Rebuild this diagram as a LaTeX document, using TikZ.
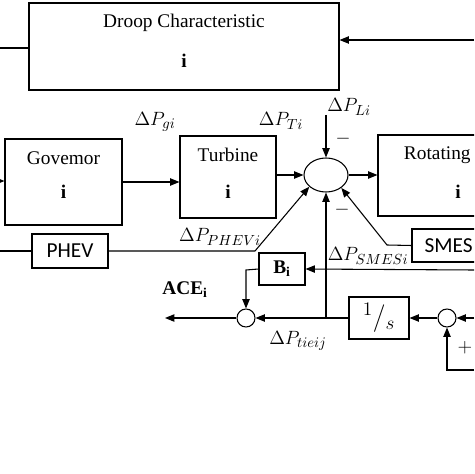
\documentclass[tikz,border=0pt]{standalone}
\usepackage{fontspec}
\setmainfont{Liberation Serif}
\newfontfamily\calib{Carlito}
\usetikzlibrary{arrows.meta,shapes.geometric}

\begin{document}
\begin{tikzpicture}[x=0.75pt,y=-0.75pt,line width=0.8pt,
        >={Triangle[length=7pt,width=5.5pt]},
        blk/.style={draw},
        txt/.style={font=\fontsize{14.5}{16}\selectfont},
        stxt/.style={font=\calib\fontsize{16}{18}\selectfont},
        sig/.style={font=\fontsize{15}{17}\selectfont},
        junc/.style={draw,circle,minimum size=13.5pt,inner sep=0pt}]
        \useasboundingbox (0,0) rectangle (474,474);
        \clip (0,0) rectangle (474,474);
        % blocks
        \node[blk,minimum width=232.5pt,minimum height=65.25pt] (droop) at (184,46.5) {};
        \node[txt] (droopname) at (184,23) {Droop Characteristic};
        \node[txt] (droopi) at (184,61) {\textbf{i}};
        \node[blk,minimum width=87.75pt,minimum height=64.5pt] (gov) at (63.5,182) {};
        \node[txt] (govname) at (63.5,158) {Govemor};
        \node[txt] (govi) at (63.5,192) {\textbf{i}};
        \node[blk,minimum width=72pt,minimum height=61.5pt] (turb) at (228,177) {};
        \node[txt] (turbname) at (228,155) {Turbine};
        \node[txt] (turbi) at (228,192) {\textbf{i}};
        \node[blk,minimum width=120pt,minimum height=60.75pt] (rot) at (458,175.5) {};
        \node[txt,anchor=west] (rotname) at (399,155) {Rotating};
        \node[txt] (roti) at (458,192) {\textbf{i}};
        \node[draw,ellipse,minimum width=33pt,minimum height=25.5pt,inner sep=0pt] (sum) at (326,175) {};
        \node[blk,minimum width=57pt,minimum height=25.5pt] (phev) at (70,251) {};
        \node[stxt] (phevname) at (70,251) {PHEV};
        \node[blk,minimum width=60pt,minimum height=24.75pt] (smes) at (452,245.5) {};
        \node[stxt,anchor=west,inner xsep=0pt] (smesname) at (424,245.5) {SMES};
        \node[blk,minimum width=34.5pt,minimum height=24pt,txt] (bi) at (282,269) {\textbf{B}$_{\mathbf{i}}$};
        \node[blk,minimum width=45pt,minimum height=31.5pt,font=\fontsize{20}{22}\selectfont] (ovs) at (379,318) {$^{1}/_{s}$};
        \node[junc] (c1) at (246,318) {};
        \node[junc] (c2) at (447,318) {};
        % free ends
        \coordinate (dl) at (0,48);
        \coordinate (dr) at (474,40);
        \coordinate (gl) at (0,181);
        \coordinate (pl) at (0,251);
        \coordinate (load) at (326,115);
        \coordinate (pk) at (255,251);
        \coordinate (sk) at (387,245);
        \coordinate (jn) at (326,318);
        \coordinate (bin) at (474,270);
        \coordinate (bk) at (246,270);
        \coordinate (ace) at (165,318);
        \coordinate (c2in) at (474,318);
        \coordinate (c2b) at (474,370);
        % connectors
        \draw (dl) -- (dl -| droop.west);
        \draw[->] (dr) -- (dr -| droop.east);
        \draw[->] (gl) -- (gl -| gov.west);
        \draw[->] (gov.east) -- (gov.east -| turb.west);
        \draw[->] (sum.west -| turb.east) -- (sum.west);
        \draw[->] (load) -- (sum.north);
        \draw[->] (sum.east) -- (sum.east -| rot.west);
        \draw (pl) -- (phev.west);
        \draw[->] (phev.east) -- (pk) -- (sum.215);
        \draw[->] (smes.west) -- (sk) -- (sum.-40);
        \draw[->] (jn) -- (sum.south);
        \draw[->] (ovs.west) -- (c1.east);
        \draw[->] (bin) -- (bi.east);
        \draw[->] (bi.west) -- (bk) -- (c1.north);
        \draw[->] (c1.west) -- (ace);
        \draw[->] (c2.west) -- (ovs.east);
        \draw[->] (c2in) -- (c2.east);
        \draw[->] (c2b) -- (c2b -| c2.south) -- (c2.south);
        % signal labels
        \node[sig] (lgi) at (155,122) {$\Delta P_{gi}$};
        \node[sig] (lti) at (281,121) {$\Delta P_{Ti}$};
        \node[sig] (lli) at (349,107) {$\Delta P_{Li}$};
        \node[sig] (lphev) at (220,237) {$\Delta P_{PHEVi}$};
        \node[sig] (lsmes) at (368,256) {$\Delta P_{SMESi}$};
        \node[sig] (ltie) at (298,341) {$\Delta P_{tieij}$};
        \node[txt,font=\fontsize{14.5}{16}\selectfont\bfseries] (lace) at (185,290) {ACE$_{\mathbf{i}}$};
        \node[sig] (m1) at (343,139) {$-$};
        \node[sig] (m2) at (342,210) {$-$};
        \node[sig] (p1) at (465,348) {$+$};
\end{tikzpicture}
\end{document}
